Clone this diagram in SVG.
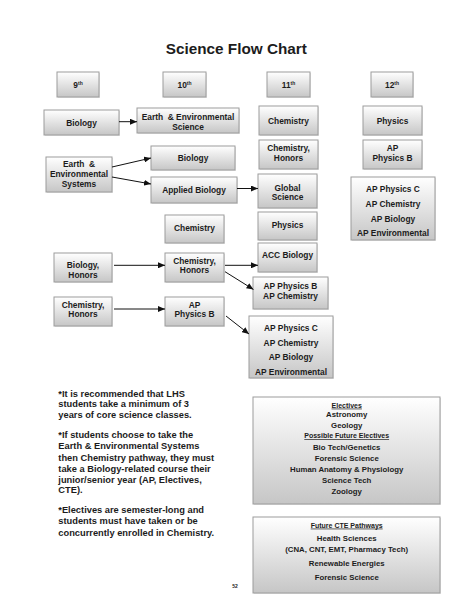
<svg xmlns="http://www.w3.org/2000/svg" width="474" height="612" viewBox="0 0 474 612">
<defs>
<linearGradient id="g" x1="0" y1="0" x2="0" y2="1">
<stop offset="0" stop-color="#ffffff"/>
<stop offset="1" stop-color="#c6c6c6"/>
</linearGradient>
<marker id="ah" markerWidth="7" markerHeight="6" refX="7" refY="3" orient="auto" markerUnits="userSpaceOnUse">
<path d="M0,0 L7,3 L0,6 Z" fill="#111"/>
</marker>
<style>
.b{fill:url(#g);stroke:#9c9c9c;stroke-width:1}
.s{fill:#e4e4e4}
text{font-family:"Liberation Sans",Arial,sans-serif;font-weight:bold;fill:#1c1c1c}
.t{font-size:8.4px;text-anchor:middle}
.e{font-size:7.8px;text-anchor:middle}
.u{font-size:7px;text-anchor:middle;text-decoration:underline}
.n{font-size:9.3px}
.c{stroke:#111;stroke-width:1;fill:none;marker-end:url(#ah)}
</style>
</defs>
<rect width="474" height="612" fill="#fff"/>
<text x="236.3" y="54" font-size="15.3px" text-anchor="middle" fill="#111">Science Flow Chart</text>

<g id="h9"><rect class="s" x="58" y="73" width="42" height="25"/><rect class="b" x="57" y="72" width="42" height="25"/><text class="t" x="78" y="87.5">9<tspan font-size="5px" dy="-3">th</tspan></text></g>
<g id="h10"><rect class="s" x="164" y="73" width="43" height="25"/><rect class="b" x="163" y="72" width="43" height="25"/><text class="t" x="184.5" y="87.5">10<tspan font-size="5px" dy="-3">th</tspan></text></g>
<g id="h11"><rect class="s" x="268" y="73" width="43" height="25"/><rect class="b" x="267" y="72" width="43" height="25"/><text class="t" x="288.5" y="87.5">11<tspan font-size="5px" dy="-3">th</tspan></text></g>
<g id="h12"><rect class="s" x="372" y="73" width="42" height="25"/><rect class="b" x="371" y="72" width="42" height="25"/><text class="t" x="392" y="87.5">12<tspan font-size="5px" dy="-3">th</tspan></text></g>

<g id="bio9"><rect class="s" x="45" y="111" width="75" height="25"/><rect class="b" x="44" y="110" width="75" height="25"/><text class="t" x="81.5" y="125.5">Biology</text></g>
<g id="ees10"><rect class="s" x="138" y="109" width="102" height="25"/><rect class="b" x="137" y="108" width="102" height="25"/><text class="t" x="188" y="120.3">Earth&#160; &amp; Environmental</text><text class="t" x="188" y="129.7">Science</text></g>
<g id="ees9"><rect class="s" x="47" y="158" width="66" height="35"/><rect class="b" x="46" y="157" width="66" height="35"/><text class="t" x="79" y="167.3">Earth&#160; &amp;</text><text class="t" x="79" y="177">Environmental</text><text class="t" x="79" y="187">Systems</text></g>
<g id="bio10"><rect class="s" x="152" y="147" width="84" height="24"/><rect class="b" x="151" y="146" width="84" height="24"/><text class="t" x="193" y="161">Biology</text></g>
<g id="appbio10"><rect class="s" x="152" y="178" width="86" height="26"/><rect class="b" x="151" y="177" width="86" height="26"/><text class="t" x="194" y="193">Applied Biology</text></g>
<g id="chem11"><rect class="s" x="260" y="107" width="59" height="29"/><rect class="b" x="259" y="106" width="59" height="29"/><text class="t" x="288.5" y="123.5">Chemistry</text></g>
<g id="chemh11"><rect class="s" x="260" y="141" width="59" height="29"/><rect class="b" x="259" y="140" width="59" height="29"/><text class="t" x="288.5" y="151.3">Chemistry,</text><text class="t" x="288.5" y="160.7">Honors</text></g>
<g id="phys12"><rect class="s" x="364" y="107" width="59" height="29"/><rect class="b" x="363" y="106" width="59" height="29"/><text class="t" x="392.5" y="123.5">Physics</text></g>
<g id="apb12"><rect class="s" x="364" y="141" width="59" height="29"/><rect class="b" x="363" y="140" width="59" height="29"/><text class="t" x="392.5" y="151.3">AP</text><text class="t" x="392.5" y="160.7">Physics B</text></g>
<g id="ap12"><rect class="s" x="352" y="178" width="84" height="63"/><rect class="b" x="351" y="177" width="84" height="63"/><text class="t" x="393" y="192.3">AP Physics C</text><text class="t" x="393" y="207">AP Chemistry</text><text class="t" x="393" y="221.7">AP Biology</text><text class="t" x="393" y="235.7">AP Environmental</text></g>
<g id="gs11"><rect class="s" x="259" y="175" width="59" height="34"/><rect class="b" x="258" y="174" width="59" height="34"/><text class="t" x="287.5" y="190.7">Global</text><text class="t" x="287.5" y="200.3">Science</text></g>
<g id="phys11"><rect class="s" x="259" y="213" width="59" height="28"/><rect class="b" x="258" y="212" width="59" height="28"/><text class="t" x="287.5" y="228">Physics</text></g>
<g id="acc11"><rect class="s" x="259" y="244" width="59" height="29"/><rect class="b" x="258" y="243" width="59" height="29"/><text class="t" x="287.5" y="258">ACC Biology</text></g>
<g id="apbc11"><rect class="s" x="254" y="278" width="75" height="32"/><rect class="b" x="253" y="277" width="75" height="32"/><text class="t" x="290.5" y="289">AP Physics B</text><text class="t" x="290.5" y="298.7">AP Chemistry</text></g>
<g id="ap11"><rect class="s" x="250" y="317" width="84" height="62"/><rect class="b" x="249" y="316" width="84" height="62"/><text class="t" x="291" y="331.3">AP Physics C</text><text class="t" x="291" y="345.7">AP Chemistry</text><text class="t" x="291" y="360.3">AP Biology</text><text class="t" x="291" y="374.7">AP Environmental</text></g>
<g id="chem10"><rect class="s" x="166" y="216" width="59" height="28"/><rect class="b" x="165" y="215" width="59" height="28"/><text class="t" x="194.5" y="231.3">Chemistry</text></g>
<g id="bioh9"><rect class="s" x="55" y="254" width="58" height="29"/><rect class="b" x="54" y="253" width="58" height="29"/><text class="t" x="83" y="268">Biology,</text><text class="t" x="83" y="278">Honors</text></g>
<g id="chemh10"><rect class="s" x="166" y="254" width="59" height="29"/><rect class="b" x="165" y="253" width="59" height="29"/><text class="t" x="194.5" y="264">Chemistry,</text><text class="t" x="194.5" y="273.3">Honors</text></g>
<g id="chemh9"><rect class="s" x="55" y="298" width="58" height="29"/><rect class="b" x="54" y="297" width="58" height="29"/><text class="t" x="83" y="308">Chemistry,</text><text class="t" x="83" y="317.3">Honors</text></g>
<g id="apb10"><rect class="s" x="166" y="298" width="59" height="29"/><rect class="b" x="165" y="297" width="59" height="29"/><text class="t" x="194.5" y="308">AP</text><text class="t" x="194.5" y="317.3">Physics B</text></g>

<g id="connectors">
<line class="c" x1="119" y1="121.7" x2="137" y2="121.7"/>
<line class="c" x1="112" y1="167" x2="151" y2="158"/>
<line class="c" x1="112" y1="177" x2="151" y2="184"/>
<line class="c" x1="237" y1="188.5" x2="258" y2="188.5"/>
<line class="c" x1="114" y1="265.3" x2="165" y2="265.3"/>
<line class="c" x1="114" y1="309" x2="165" y2="309"/>
<line class="c" x1="225" y1="265.3" x2="258" y2="265.3"/>
<line class="c" x1="225" y1="271.7" x2="253.5" y2="289.5"/>
<line class="c" x1="226" y1="316" x2="249" y2="334"/>
</g>

<g id="notes">
<text class="n" x="58.3" y="396.7">*It is recommended that LHS</text>
<text class="n" x="58.3" y="407.3">students take a minimum of 3</text>
<text class="n" x="58.3" y="417.7">years of core science classes.</text>
<text class="n" x="58.3" y="438.3">*If students choose to take the</text>
<text class="n" x="58.3" y="449.3">Earth &amp; Environmental Systems</text>
<text class="n" x="58.3" y="460.5">then Chemistry pathway, they must</text>
<text class="n" x="58.3" y="471.5">take a Biology-related course their</text>
<text class="n" x="58.3" y="482.5">junior/senior year (AP, Electives,</text>
<text class="n" x="58.3" y="493.3">CTE).</text>
<text class="n" x="58.3" y="513.3">*Electives are semester-long and</text>
<text class="n" x="58.3" y="524.3">students must have taken or be</text>
<text class="n" x="58.3" y="535.5">concurrently enrolled in Chemistry.</text>
</g>

<g id="electives"><rect class="s" x="254" y="398" width="187" height="107"/><rect class="b" x="253" y="397" width="187" height="107"/>
<text class="u" x="346.7" y="407.6">Electives</text>
<text class="e" x="346.7" y="417.1">Astronomy</text>
<text class="e" x="346.7" y="427.8">Geology</text>
<text class="u" x="346.7" y="438.3">Possible Future Electives</text>
<text class="e" x="346.7" y="449.5">Bio Tech/Genetics</text>
<text class="e" x="346.7" y="460.8">Forensic Science</text>
<text class="e" x="346.7" y="472.1">Human Anatomy &amp; Physiology</text>
<text class="e" x="346.7" y="482.8">Science Tech</text>
<text class="e" x="346.7" y="494.1">Zoology</text>
</g>
<g id="cte"><rect class="s" x="254" y="518" width="187" height="76"/><rect class="b" x="253" y="517" width="187" height="76"/>
<text class="u" x="346.7" y="527.6">Future CTE Pathways</text>
<text class="e" x="346.7" y="541.1">Health Sciences</text>
<text class="e" x="346.7" y="552.1">(CNA, CNT, EMT, Pharmacy Tech)</text>
<text class="e" x="346.7" y="566.1">Renewable Energies</text>
<text class="e" x="346.7" y="579.5">Forensic Science</text>
</g>
<text x="235" y="588" font-size="5px" text-anchor="middle">52</text>
</svg>
